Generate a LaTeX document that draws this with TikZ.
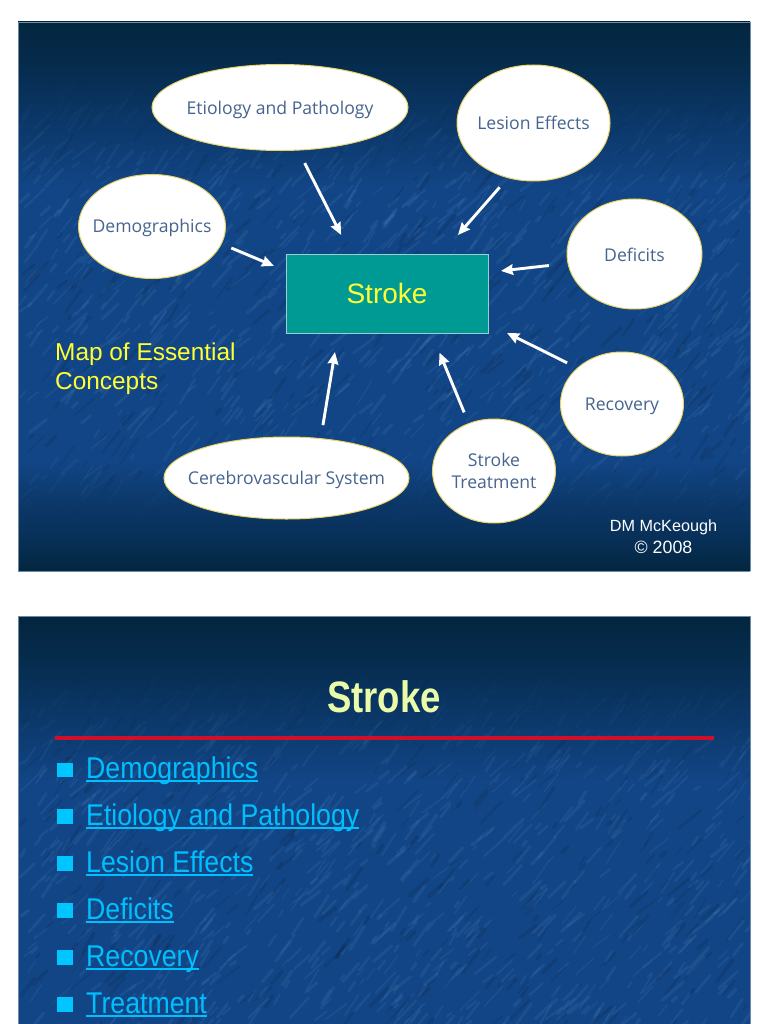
\documentclass[tikz,border=0pt]{standalone}
\usepackage{fontspec}
\usetikzlibrary{arrows.meta,shapes.geometric,calc}
\setmainfont{Liberation Sans}
\newfontfamily\lblfont{Open Sans}
\newfontfamily\narrowfont[FakeStretch=0.89]{Liberation Sans}
\newfontfamily\titlefont[FakeStretch=0.83]{Liberation Sans Bold}
\definecolor{bgmain}{HTML}{124585}
\definecolor{bgdark}{HTML}{03263F}
\definecolor{bgmid}{HTML}{0B3768}
\definecolor{rimline}{HTML}{6F8AA3}
\definecolor{hilite}{HTML}{6FA3DE}
\definecolor{shade}{HTML}{0B3468}
\definecolor{ringcol}{HTML}{E9D266}
\definecolor{lblcol}{HTML}{46648F}
\definecolor{boxfill}{HTML}{009A95}
\definecolor{boxline}{HTML}{9CCFD0}
\definecolor{strokeyellow}{HTML}{FFFF33}
\definecolor{titleyellow}{HTML}{EAFCA8}
\definecolor{linkcyan}{HTML}{00BFFF}
\definecolor{bulletcyan}{HTML}{00C6FF}
\definecolor{redline}{HTML}{D0102A}
% the path box is mapped on 25bp..75bp of the shading; 0bp is the bottom
\pgfdeclareverticalshading{panelbg}{100bp}{
 color(0bp)=(bgdark); color(25bp)=(bgdark); color(28bp)=(bgmid!60!bgdark); color(31bp)=(bgmid); color(35bp)=(bgmain);
 color(60bp)=(bgmain); color(66bp)=(bgmid); color(71bp)=(bgmid!35!bgdark); color(75bp)=(bgdark); color(100bp)=(bgdark)}
\newlength\ulw
\newcommand\lnk[1]{\settowidth\ulw{#1}\rlap{\rule[-3.6pt]{\ulw}{1.7pt}}#1}
\newcommand\bt[2]{\makebox[0pt][c]{\raisebox{#1}[0pt][0pt]{\begin{tabular}[t]{@{}c@{}}#2\end{tabular}}}}
\tikzset{
 bubble/.style={ellipse,draw=ringcol,line width=1pt,fill=white,inner sep=0pt,outer sep=0pt,
   text=lblcol,align=center,font=\lblfont\fontsize{17.6}{22.4}\selectfont},
 flow/.style={draw=white,line width=2.9pt,-{Stealth[length=12pt,width=10.5pt,inset=1pt]}},
 linkitem/.style={anchor=base west,inner sep=0pt,text=linkcyan,font=\narrowfont\fontsize{30}{34}\selectfont},
 bulletbox/.style={fill=bulletcyan,draw=none,minimum width=16pt,minimum height=14.5pt,inner sep=0pt},
 yellowtext/.style={anchor=base west,inner sep=0pt,text=strokeyellow,font=\fontsize{24.4}{29}\selectfont},
 creditline/.style={anchor=base,inner sep=0pt,text=white}
}
\newcommand\slidepanel[3]{% top, bottom of full slide, seed
 \begin{scope}
  \clip (18,#1) rectangle (750,{min(#2,1024)});
  \shade[shading=panelbg] (18,#1) rectangle (750,#2);
  \pgfmathsetseed{#3}
  \foreach \i in {1,...,1800}{
   \pgfmathsetmacro\sx{384+366*rand}
   \pgfmathsetmacro\sy{#1+274.5+274.5*rand}
   \pgfmathsetmacro\st{(\sy-#1)/549}
   \pgfmathsetmacro\env{min(1,max(0,(\st-0.12)/0.2))*min(1,max(0,(0.92-\st)/0.15))}
   \pgfmathsetmacro\sl{5+12*(1+rand)}
   \pgfmathsetmacro\sa{48+12*rand}
   \pgfmathsetmacro\sw{1+1.2*(1+rand)}
   \pgfmathsetmacro\so{0.11*\env}
   \pgfmathtruncatemacro\pick{mod(\i,4)}
   \ifnum\pick=0
    \draw[shade,line cap=round,line width=\sw pt,opacity=\so] (\sx,\sy) -- ++({\sl*cos(\sa)},{-\sl*sin(\sa)});
   \else
    \draw[hilite,line cap=round,line width=\sw pt,opacity=\so] (\sx,\sy) -- ++({\sl*cos(\sa)},{-\sl*sin(\sa)});
   \fi
  }
 \end{scope}
 \draw[rimline,line width=0.8pt] (18,{min(#2,1024)}) -- (18,#1) -- (750,#1) -- (750,{min(#2,1024)});
}
\begin{document}
\begin{tikzpicture}[x=1pt,y=-1pt]
\useasboundingbox (0,0) rectangle (768,1024);
\fill[white] (0,0) rectangle (768,1024);
\slidepanel{22}{571}{41}
\draw[rimline,line width=0.8pt] (18,571) -- (750,571);
\slidepanel{616}{1165}{97}

% upper slide
\node[draw=boxline,line width=0.8pt,fill=boxfill,minimum width=202pt,minimum height=79pt,inner sep=0pt,outer sep=0pt,
  text=strokeyellow,font=\fontsize{28}{32}\selectfont] (stroke) at (387,293.5) {Stroke};
\node[bubble,minimum width=256pt,minimum height=86pt] (etio) at (280,107.5) {\bt{-6.6pt}{Etiology and Pathology}};
\node[bubble,minimum width=147pt,minimum height=104pt] (demo) at (152,226.5) {\bt{-6pt}{Demographics}};
\node[bubble,minimum width=153pt,minimum height=116pt] (lesion) at (533.5,123) {\bt{-7pt}{Lesion Effects}};
\node[bubble,minimum width=135pt,minimum height=110pt] (deficits) at (634.5,254) {\bt{-7pt}{Deficits}};
\node[bubble,minimum width=123pt,minimum height=104pt] (recovery) at (622,404) {\bt{-6pt}{Recovery}};
\node[bubble,minimum width=123pt,minimum height=104pt] (treat) at (494,471) {\bt{5pt}{Stroke\\Treatment}};
\node[bubble,minimum width=245pt,minimum height=82pt] (cereb) at (286.5,478) {\bt{-6pt}{Cerebrovascular System}};

\draw[flow,shorten <=14.6pt,shorten >=21.4pt] (etio.-67.6) -- ([xshift=-36.2pt]stroke.north);
\draw[flow,shorten <=10.8pt,shorten >=13pt] (demo.-14.2) -- ([yshift=22.5pt]stroke.west);
\draw[flow,shorten <=12.8pt,shorten >=25.2pt] (lesion.245) -- ([xshift=54.4pt]stroke.north);
\draw[flow,shorten <=19.3pt,shorten >=13pt] (deficits.188.5) -- ([yshift=21.1pt]stroke.east);
\draw[flow,shorten <=11.7pt,shorten >=21.2pt] (recovery.141.2) -- ([yshift=-30pt]stroke.east);
\draw[flow,shorten <=12.1pt,shorten >=21.2pt] (treat.118.9) -- ([xshift=44.4pt]stroke.south);
\draw[flow,shorten <=13.7pt,shorten >=19.3pt] (cereb.49) -- ([xshift=-48.9pt]stroke.south);

\node[yellowtext] (mapa) at (55,360) {Map of Essential};
\node[yellowtext] (mapb) at (55,389.5) {Concepts};
\node[creditline,font=\fontsize{16.2}{19}\selectfont] (credita) at (663.5,531.5) {DM McKeough};
\node[creditline,font=\fontsize{17.8}{20}\selectfont] (creditb) at (663.5,553.5) {\symbol{"00A9} 2008};

% lower slide
\node[anchor=base,inner sep=0pt,text=titleyellow,font=\titlefont\fontsize{44}{48}\selectfont] (title) at (384,712) {Stroke};
\draw[redline,line width=3.4pt] (55,738) -- (714,738);
\node[bulletbox] (b1) at (65,770) {};
\node[bulletbox] (b2) at (65,816.5) {};
\node[bulletbox] (b3) at (65,863.5) {};
\node[bulletbox] (b4) at (65,910.5) {};
\node[bulletbox] (b5) at (65,957.5) {};
\node[bulletbox] (b6) at (65,1004.5) {};
\node[linkitem] (l1) at (86,778.5) {\lnk{Demographics}};
\node[linkitem] (l2) at (86,825) {\lnk{Etiology and Pathology}};
\node[linkitem] (l3) at (86,872) {\lnk{Lesion Effects}};
\node[linkitem] (l4) at (86,919) {\lnk{Deficits}};
\node[linkitem] (l5) at (86,966) {\lnk{Recovery}};
\node[linkitem] (l6) at (86,1013) {\lnk{Treatment}};
\end{tikzpicture}
\end{document}
